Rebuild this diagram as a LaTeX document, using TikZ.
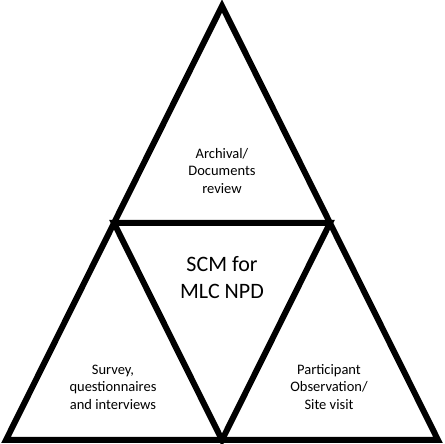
\documentclass[tikz,border=0pt]{standalone}
\usepackage{fontspec}
\setmainfont{Carlito}
\begin{document}
\begin{tikzpicture}[x=1pt,y=1pt,
  edge/.style={line width=6pt,line join=miter,black},
  small/.style={align=center,font=\fontsize{14.5}{17.5}\selectfont},
  big/.style={align=center,font=\fontsize{22}{27}\selectfont}]
\useasboundingbox (0,0) rectangle (444,444);
\coordinate (A) at (222,438);
\coordinate (BL) at (6,4);
\coordinate (BR) at (438,4);
\coordinate (ML) at (114,221);
\coordinate (MR) at (330,221);
\coordinate (BM) at (222,4);
\draw[edge] (A) -- (BR) -- (BL) -- cycle;
\draw[edge] (ML) -- (MR) -- (BM) -- cycle;
\node[small] (arch) at (222,273) {Archival/\\Documents\\review};
\node[big] (scm) at (222,166) {SCM for\\MLC NPD};
\node[small] (surv) at (113,57) {Survey,\\questionnaires\\and interviews};
\node[small] (part) at (329,57) {Participant\\Observation/\\Site visit};
\end{tikzpicture}
\end{document}
